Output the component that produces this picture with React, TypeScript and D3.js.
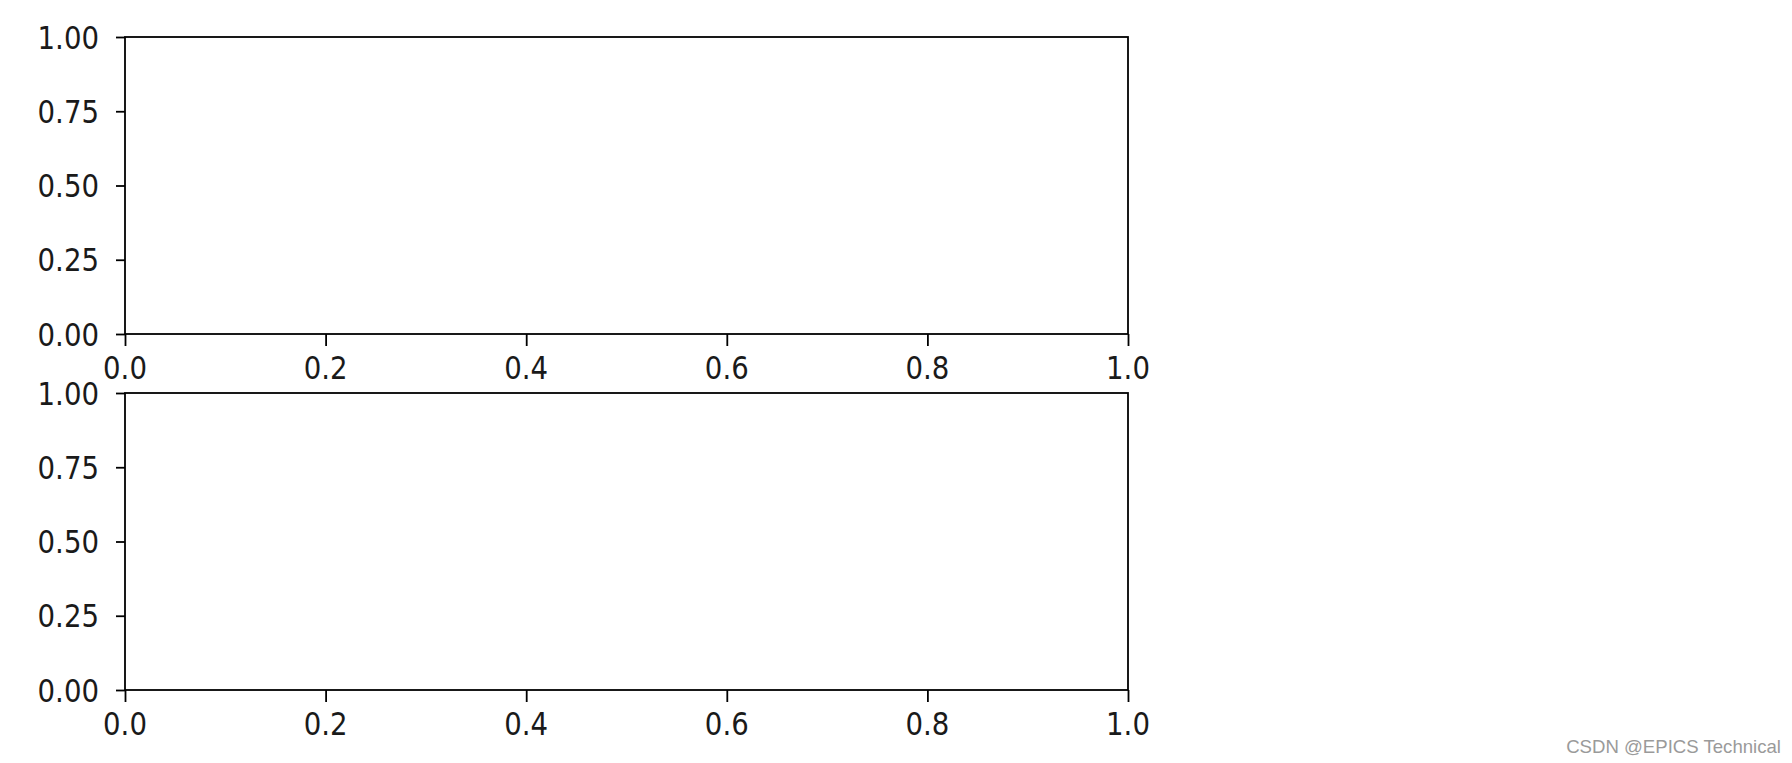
import React, { useEffect, useRef } from "react";
import * as d3 from "d3";

// empty subplots: only the tick values are data
const xTicks = [0, 0.2, 0.4, 0.6, 0.8, 1.0];
const yTicks = [0, 0.25, 0.5, 0.75, 1.0];
const panels = ["top", "bottom"];

const W = 1792;
const H = 763;
const left = 125;
const right = 1128;
const panelTops = [37, 393];
const panelHeight = 297;

const FONT = "'DejaVu Sans', sans-serif";
const FS = 27.6;
const SY = 1.16; // the picture is stretched vertically

const App: React.FC = () => {
  const svgRef = useRef<SVGSVGElement | null>(null);

  useEffect(() => {
    if (!svgRef.current) return;
    const svg = d3.select(svgRef.current);
    svg.selectAll("*").remove();

    const x = d3.scaleLinear().domain([0, 1]).range([left, right]);

    panels.forEach((p, i) => {
      const top = panelTops[i];
      const bottom = top + panelHeight;
      const y = d3.scaleLinear().domain([0, 1]).range([bottom, top]);
      const g = svg.append("g").attr("class", `panel-${p}`);

      // frame
      g.append("rect")
        .attr("x", left)
        .attr("y", top)
        .attr("width", right - left)
        .attr("height", bottom - top)
        .attr("fill", "none")
        .attr("stroke", "#000")
        .attr("stroke-width", 1.8);

      // y ticks
      g.append("g")
        .attr("transform", `translate(${left},0)`)
        .call(d3.axisLeft(y).tickValues(yTicks).tickSize(9).tickSizeOuter(0).tickFormat(() => ""))
        .call((a) => a.select(".domain").remove())
        .selectAll("line")
        .attr("stroke", "#000")
        .attr("stroke-width", 1.8);

      g.selectAll(".ylab")
        .data(yTicks)
        .join("text")
        .attr("class", "ylab")
        .attr("transform", (d) => `translate(99,${y(d)}) scale(1,${SY})`)
        .attr("dy", "0.36em")
        .attr("text-anchor", "end")
        .attr("font-family", FONT)
        .attr("font-size", FS)
        .attr("fill", "#1a1a1a")
        .text((d) => d3.format(".2f")(d));

      // x ticks
      g.append("g")
        .attr("transform", `translate(0,${bottom})`)
        .call(d3.axisBottom(x).tickValues(xTicks).tickSize(12).tickSizeOuter(0).tickFormat(() => ""))
        .call((a) => a.select(".domain").remove())
        .selectAll("line")
        .attr("stroke", "#000")
        .attr("stroke-width", 1.8);

      g.selectAll(".xlab")
        .data(xTicks)
        .join("text")
        .attr("class", "xlab")
        .attr("transform", (d) => `translate(${x(d)},${bottom + 33}) scale(1,${SY})`)
        .attr("dy", "0.36em")
        .attr("text-anchor", "middle")
        .attr("font-family", FONT)
        .attr("font-size", FS)
        .attr("fill", "#1a1a1a")
        .text((d) => d3.format(".1f")(d));
    });

    // watermark
    svg.append("text")
      .attr("x", 1781)
      .attr("y", 746)
      .attr("dy", "0.35em")
      .attr("text-anchor", "end")
      .attr("font-family", "'Liberation Sans', Arial, sans-serif")
      .attr("font-size", 18.6)
      .attr("fill", "#9a9a9a")
      .text("CSDN @EPICS Technical");
  }, []);

  return (
    <svg
      ref={svgRef}
      width={W}
      height={H}
      style={{ position: "absolute", left: 0, top: 0, background: "#fff" }}
    />
  );
};

export default App;
